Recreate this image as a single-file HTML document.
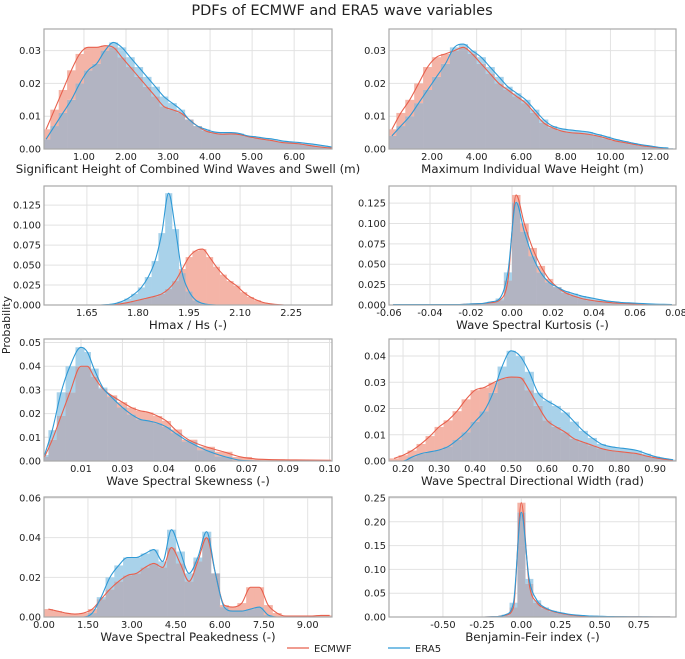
<!DOCTYPE html>
<html><head><meta charset="utf-8">
<style>
html,body{margin:0;padding:0;background:#fff;}
svg{display:block;font-family:"DejaVu Sans","Liberation Sans",sans-serif;}
</style></head>
<body>
<svg id="fig" width="685" height="659" viewBox="0 0 685 659" xmlns="http://www.w3.org/2000/svg">
<text x="342" y="15" text-anchor="middle" font-size="14.5" fill="#222">PDFs of ECMWF and ERA5 wave variables</text>
<text transform="translate(10,325) rotate(-90)" text-anchor="middle" font-size="11" fill="#222">Probability</text>
<g id="panels"></g>
<g>
<line x1="287" y1="648" x2="309" y2="648" stroke="#e8604d" stroke-width="1.3"/>
<text x="314" y="652" font-size="10" fill="#222">ECMWF</text>
<line x1="388" y1="648" x2="410" y2="648" stroke="#2f9ad6" stroke-width="1.3"/>
<text x="415" y="652" font-size="10" fill="#222">ERA5</text>
</g>
</svg>
<script>
// ---- Panel 1: Significant height ----
const p1X=[0.1,0.3,0.5,0.7,0.9,1.1,1.3,1.5,1.7,1.9,2.1,2.3,2.5,2.7,2.9,3.1,3.3,3.5,3.7,3.9,4.1,4.3,4.5,4.7,4.9,5.1,5.3,5.5,5.7,5.9,6.1,6.3,6.5,6.7,6.9];
const p1Red=[0.006,0.012,0.018,0.024,0.029,0.031,0.031,0.0315,0.031,0.028,0.025,0.022,0.019,0.016,0.013,0.012,0.011,0.009,0.007,0.0055,0.0048,0.0045,0.0046,0.0044,0.0038,0.0033,0.0029,0.0025,0.002,0.0018,0.0016,0.0012,0.0008,0.0005,0.0003];
const p1Blue=[0.003,0.007,0.011,0.015,0.02,0.024,0.026,0.03,0.0325,0.031,0.028,0.025,0.022,0.019,0.016,0.014,0.012,0.009,0.007,0.006,0.0052,0.005,0.005,0.0047,0.004,0.0037,0.0033,0.003,0.0025,0.0022,0.002,0.0017,0.0014,0.001,0.0006];
const p1XTicks=[1,2,3,4,5,6];
const p1XLabels=["1.00","2.00","3.00","4.00","5.00","6.00"];
const p1YTicks=[0,0.01,0.02,0.03];
const p1YLabels=["0.00","0.01","0.02","0.03"];
// ---- Panel 2: Max individual wave height ----
const p2X=[0.2,0.6,1.0,1.4,1.8,2.2,2.6,3.0,3.4,3.8,4.2,4.6,5.0,5.4,5.8,6.2,6.6,7.0,7.4,7.8,8.2,8.6,9.0,9.4,9.8,10.2,10.6,11.0,11.4,11.8,12.2,12.6];
const p2Red=[0.006,0.011,0.015,0.02,0.025,0.028,0.029,0.030,0.031,0.029,0.026,0.023,0.02,0.018,0.016,0.014,0.011,0.008,0.0065,0.0055,0.005,0.0048,0.0045,0.004,0.0033,0.0025,0.002,0.0015,0.001,0.0007,0.0004,0.0002];
const p2Blue=[0.004,0.007,0.01,0.014,0.018,0.022,0.026,0.031,0.032,0.030,0.028,0.025,0.022,0.019,0.017,0.015,0.012,0.009,0.007,0.0062,0.0058,0.0055,0.0052,0.0045,0.0038,0.003,0.0024,0.0018,0.0013,0.0009,0.0005,0.0003];
const p2XTicks=[2,4,6,8,10,12];
const p2XLabels=["2.00","4.00","6.00","8.00","10.00","12.00"];
const p2YTicks=[0,0.01,0.02,0.03];
const p2YLabels=["0.00","0.01","0.02","0.03"];
// ---- Panel 3: Hmax / Hs ----
const p3X=[1.53,1.55,1.57,1.59,1.61,1.63,1.65,1.67,1.69,1.71,1.73,1.75,1.77,1.79,1.81,1.83,1.85,1.87,1.89,1.91,1.93,1.95,1.97,1.99,2.01,2.03,2.05,2.07,2.09,2.11,2.13,2.15,2.17,2.19,2.21,2.23,2.25,2.27,2.29,2.31,2.33,2.35,2.37];
const p3Red=[0,0,0,0,0,0,0,0,0,0,0.0005,0.0015,0.003,0.005,0.007,0.009,0.011,0.014,0.02,0.03,0.045,0.06,0.068,0.07,0.06,0.048,0.038,0.03,0.024,0.016,0.01,0.006,0.003,0.0015,0.0005,0,0,0,0,0,0,0,0];
const p3Blue=[0,0,0,0,0,0,0,0,0,0.0005,0.0015,0.004,0.008,0.014,0.022,0.035,0.055,0.09,0.14,0.095,0.04,0.017,0.006,0.002,0.0005,0,0,0,0,0,0,0,0,0,0,0,0,0,0,0,0,0,0];
const p3XTicks=[1.65,1.80,1.95,2.10,2.25];
const p3XLabels=["1.65","1.80","1.95","2.10","2.25"];
const p3YTicks=[0,0.025,0.05,0.075,0.1,0.125];
const p3YLabels=["0.000","0.025","0.050","0.075","0.100","0.125"];
// ---- Panel 4: Kurtosis ----
const p4X=[-0.058,-0.054,-0.05,-0.046,-0.042,-0.038,-0.034,-0.03,-0.026,-0.022,-0.018,-0.014,-0.01,-0.006,-0.002,0.002,0.006,0.01,0.014,0.018,0.022,0.026,0.03,0.034,0.038,0.042,0.046,0.05,0.054,0.058,0.062,0.066,0.07,0.074,0.078];
const p4Red=[0.0005,0.0005,0.0005,0.0005,0.0005,0.0005,0.0005,0.0005,0.0005,0.001,0.0015,0.002,0.003,0.006,0.03,0.135,0.1,0.07,0.048,0.032,0.022,0.015,0.011,0.008,0.006,0.0045,0.0035,0.0025,0.002,0.0015,0.001,0.0008,0.0006,0.0004,0.0003];
const p4Blue=[0.0005,0.0005,0.0005,0.0005,0.0005,0.0005,0.0005,0.0005,0.0005,0.001,0.0015,0.002,0.004,0.008,0.04,0.126,0.09,0.06,0.04,0.028,0.022,0.017,0.014,0.011,0.009,0.007,0.005,0.004,0.003,0.0025,0.002,0.0015,0.001,0.0008,0.0005];
const p4XTicks=[-0.06,-0.04,-0.02,0,0.02,0.04,0.06,0.08];
const p4XLabels=["-0.06","-0.04","-0.02","0.00","0.02","0.04","0.06","0.08"];
const p4YTicks=[0,0.025,0.05,0.075,0.1,0.125];
const p4YLabels=["0.000","0.025","0.050","0.075","0.100","0.125"];
// ---- Panel 5: Skewness ----
const p5X=[-0.0017,0.0011,0.0043,0.0075,0.0115,0.0138,0.0162,0.0194,0.0225,0.0265,0.0297,0.0329,0.036,0.0392,0.0424,0.0456,0.0504,0.0567,0.0631,0.0694,0.0773,0.0932,0.102];
const p5Red=[0.0017,0.009,0.019,0.029,0.040,0.040,0.0356,0.0305,0.0277,0.0248,0.0226,0.0212,0.0205,0.019,0.0169,0.0133,0.009,0.006,0.0039,0.0017,0.0007,0.0004,0.0003];
const p5Blue=[0.0025,0.013,0.029,0.040,0.048,0.046,0.039,0.031,0.027,0.0226,0.0197,0.0176,0.0169,0.016,0.0144,0.0118,0.0082,0.0046,0.002,0.0003,0,0,0];
const p5XTicks=[0.0115,0.0265,0.0415,0.0565,0.0715,0.0865,0.1015];
const p5XLabels=["0.01","0.03","0.04","0.06","0.07","0.09","0.10"];
const p5YTicks=[0,0.01,0.02,0.03,0.04,0.05];
const p5YLabels=["0.00","0.01","0.02","0.03","0.04","0.05"];
// ---- Panel 6: Directional width ----
const p6X=[0.175,0.2,0.225,0.25,0.275,0.3,0.325,0.35,0.375,0.4,0.425,0.45,0.475,0.5,0.525,0.55,0.575,0.6,0.625,0.65,0.675,0.7,0.725,0.75,0.775,0.8,0.825,0.85,0.875,0.9,0.925,0.95];
const p6Red=[0.001,0.0022,0.004,0.0065,0.0095,0.013,0.0155,0.019,0.0235,0.027,0.028,0.0298,0.0313,0.032,0.0318,0.027,0.021,0.0155,0.013,0.011,0.0085,0.0072,0.006,0.0048,0.004,0.0036,0.0032,0.0028,0.0019,0.0012,0.0007,0.0003];
const p6Blue=[0,0,0.0015,0.0028,0.0035,0.0042,0.0055,0.008,0.011,0.015,0.019,0.026,0.036,0.042,0.040,0.034,0.026,0.023,0.021,0.0185,0.015,0.0115,0.0088,0.0065,0.0055,0.005,0.0046,0.004,0.0028,0.0017,0.001,0.0005];
const p6XTicks=[0.2,0.3,0.4,0.5,0.6,0.7,0.8,0.9];
const p6XLabels=["0.20","0.30","0.40","0.50","0.60","0.70","0.80","0.90"];
const p6YTicks=[0,0.01,0.02,0.03,0.04];
const p6YLabels=["0.00","0.01","0.02","0.03","0.04"];
// ---- Panel 7: Peakedness ----
const p7X=[0.15,0.45,0.75,1.05,1.35,1.65,1.95,2.25,2.55,2.85,3.15,3.45,3.75,4.05,4.35,4.65,4.95,5.25,5.55,5.85,6.15,6.45,6.75,7.05,7.35,7.65,7.95,8.25,8.55,8.85,9.15,9.45,9.75];
const p7Red=[0.004,0.003,0.002,0.0015,0.002,0.004,0.009,0.014,0.018,0.021,0.022,0.025,0.027,0.025,0.035,0.027,0.018,0.028,0.040,0.022,0.006,0.005,0.007,0.015,0.015,0.006,0.002,0.0005,0.0005,0.0005,0.0005,0.0008,0.0008];
const p7Blue=[0,0,0,0,0,0.002,0.01,0.02,0.026,0.03,0.03,0.032,0.034,0.028,0.044,0.033,0.022,0.03,0.043,0.022,0.005,0.003,0.003,0.004,0.005,0.001,0,0,0,0,0,0,0];
const p7XTicks=[0,1.5,3,4.5,6,7.5,9];
const p7XLabels=["0.00","1.50","3.00","4.50","6.00","7.50","9.00"];
const p7YTicks=[0,0.02,0.04,0.06];
const p7YLabels=["0.00","0.02","0.04","0.06"];
// ---- Panel 8: Benjamin-Feir index ----
const p8X=[-0.8,-0.75,-0.7,-0.65,-0.6,-0.55,-0.5,-0.45,-0.4,-0.35,-0.3,-0.25,-0.2,-0.15,-0.1,-0.05,0,0.05,0.1,0.15,0.2,0.25,0.3,0.35,0.4,0.45,0.5,0.55,0.6,0.65,0.7,0.75,0.8,0.85,0.9,0.95];
const p8Red=[0,0,0,0,0,0,0,0,0,0,0,0,0.0005,0.001,0.004,0.02,0.24,0.07,0.03,0.018,0.012,0.008,0.005,0.003,0.002,0.0015,0.001,0.0008,0.0006,0.0005,0.0004,0.0003,0.0002,0.0002,0.0001,0.0001];
const p8Blue=[0,0,0,0,0,0,0,0,0,0,0,0,0.0005,0.001,0.005,0.03,0.22,0.08,0.035,0.02,0.013,0.009,0.006,0.004,0.003,0.002,0.0015,0.001,0.0008,0.0006,0.0005,0.0004,0.0003,0.0002,0.0001,0.0001];
const p8XTicks=[-0.5,-0.25,0,0.25,0.5,0.75];
const p8XLabels=["-0.50","-0.25","0.00","0.25","0.50","0.75"];
const p8YTicks=[0,0.05,0.1,0.15,0.2,0.25];
const p8YLabels=["0.00","0.05","0.10","0.15","0.20","0.25"];

const NS="http://www.w3.org/2000/svg";
const RED="#e8604d",BLUE="#2f9ad6",RBAR="#f4b4a7",BBAR="#a9d2ea",GBAR="#b2b4c2";
function mk(tag,attrs,parent){const e=document.createElementNS(NS,tag);for(const k in attrs)e.setAttribute(k,attrs[k]);if(parent)parent.appendChild(e);return e;}
function monoPath(px,py){
  const n=px.length;if(n<2)return "";
  const d=[],m=new Array(n);
  for(let i=0;i<n-1;i++)d.push((py[i+1]-py[i])/(px[i+1]-px[i]));
  m[0]=d[0];m[n-1]=d[n-2];
  for(let i=1;i<n-1;i++){m[i]=(d[i-1]*d[i]<=0)?0:(d[i-1]+d[i])/2;}
  for(let i=0;i<n-1;i++){if(d[i]===0){m[i]=0;m[i+1]=0;continue;}const a=m[i]/d[i],b=m[i+1]/d[i],s=a*a+b*b;if(s>9){const t=3/Math.sqrt(s);m[i]=t*a*d[i];m[i+1]=t*b*d[i];}}
  let p="M"+px[0].toFixed(2)+","+py[0].toFixed(2);
  for(let i=0;i<n-1;i++){const h=(px[i+1]-px[i])/3;p+=" C"+(px[i]+h).toFixed(2)+","+(py[i]+m[i]*h).toFixed(2)+" "+(px[i+1]-h).toFixed(2)+","+(py[i+1]-m[i+1]*h).toFixed(2)+" "+px[i+1].toFixed(2)+","+py[i+1].toFixed(2);}
  return p;
}
const root=document.getElementById("panels");
function panel(cfg,idx){
  const {name,x0,x1,y0,y1,xmin,xmax,ymax,xs,red,blue,xt,xl,yt,yl,label}=cfg;
  const sx=v=>x0+(v-xmin)/(xmax-xmin)*(x1-x0);
  const sy=v=>y1-v/ymax*(y1-y0);
  const g=mk("g",{},root);
  
  
  const cp=mk("clipPath",{id:"cp"+idx},g);
  mk("rect",{x:x0,y:y0,width:x1-x0,height:y1-y0},cp);
  const grid=mk("g",{stroke:"#e2e2e2","stroke-width":"1"},g);
  
  
  xt.forEach(v=>{const X=sx(v);mk("line",{x1:X,x2:X,y1:y0,y2:y1},grid);});
  yt.forEach(v=>{const Y=sy(v);mk("line",{x1:x0,x2:x1,y1:Y,y2:Y},grid);});
  const bars=mk("g",{"clip-path":"url(#cp"+idx+")"},g);
  
  
  for(let i=0;i<xs.length;i++){
    const l=i>0?(xs[i-1]+xs[i])/2:xs[i]-(xs[1]-xs[0])/2;
    const r=i<xs.length-1?(xs[i]+xs[i+1])/2:xs[i]+(xs[i]-xs[i-1])/2;
    const L=sx(l),R=sx(r)+0.3,lo=Math.min(red[i],blue[i]),hi=Math.max(red[i],blue[i]);
    const gb=mk("rect",{x:L,width:R-L,y:sy(lo),height:Math.max(0,sy(0)-sy(lo)),fill:GBAR},bars);
    
    
    if(hi>lo){const eb=mk("rect",{x:L,width:R-L,y:sy(hi),height:sy(lo)-sy(hi),fill:red[i]>blue[i]?RBAR:BBAR},bars);
      
      }
  }
  const px=xs.map(sx);
  const rl=mk("path",{d:monoPath(px,red.map(sy)),fill:"none",stroke:RED,"stroke-width":"1.1","clip-path":"url(#cp"+idx+")"},g);
  
  
  const bl=mk("path",{d:monoPath(px,blue.map(sy)),fill:"none",stroke:BLUE,"stroke-width":"1.1","clip-path":"url(#cp"+idx+")"},g);
  
  
  const fr=mk("rect",{x:x0,y:y0,width:x1-x0,height:y1-y0,fill:"none",stroke:"#a8a8a8","stroke-width":"1.2"},g);
  
  
  xt.forEach((v,i)=>{const t=mk("text",{x:sx(v),y:y1+11,"text-anchor":"middle","font-size":"9.8",fill:"#222"},g);t.textContent=xl[i];
    
    });
  yt.forEach((v,i)=>{const t=mk("text",{x:x0-3,y:sy(v)+3.5,"text-anchor":"end","font-size":"9.8",fill:"#222"},g);t.textContent=yl[i];
    
    });
  const lab=mk("text",{x:(x0+x1)/2,y:y1+24,"text-anchor":"middle","font-size":"11.8",fill:"#222"},g);lab.textContent=label;
  
  
}
const L0=44,L1=332,R0=389,R1=676;
const rows=[[29,149],[186,305],[339,461],[497,617]];
panel({name:"sig-height",x0:L0,x1:L1,y0:rows[0][0],y1:rows[0][1],xmin:0.05,xmax:6.9,ymax:0.0366,xs:p1X,red:p1Red,blue:p1Blue,xt:p1XTicks,xl:p1XLabels,yt:p1YTicks,yl:p1YLabels,label:"Significant Height of Combined Wind Waves and Swell (m)"},1);
panel({name:"max-wave-height",x0:R0,x1:R1,y0:rows[0][0],y1:rows[0][1],xmin:0.07,xmax:12.94,ymax:0.0366,xs:p2X,red:p2Red,blue:p2Blue,xt:p2XTicks,xl:p2XLabels,yt:p2YTicks,yl:p2YLabels,label:"Maximum Individual Wave Height (m)"},2);
panel({name:"hmax-hs",x0:L0,x1:L1,y0:rows[1][0],y1:rows[1][1],xmin:1.524,xmax:2.37,ymax:0.149,xs:p3X,red:p3Red,blue:p3Blue,xt:p3XTicks,xl:p3XLabels,yt:p3YTicks,yl:p3YLabels,label:"Hmax / Hs (-)"},3);
panel({name:"kurtosis",x0:R0,x1:R1,y0:rows[1][0],y1:rows[1][1],xmin:-0.06,xmax:0.08,ymax:0.146,xs:p4X,red:p4Red,blue:p4Blue,xt:p4XTicks,xl:p4XLabels,yt:p4YTicks,yl:p4YLabels,label:"Wave Spectral Kurtosis (-)"},4);
panel({name:"skewness",x0:L0,x1:L1,y0:rows[2][0],y1:rows[2][1],xmin:-0.0019,xmax:0.1024,ymax:0.0515,xs:p5X,red:p5Red,blue:p5Blue,xt:p5XTicks,xl:p5XLabels,yt:p5YTicks,yl:p5YLabels,label:"Wave Spectral Skewness (-)"},5);
panel({name:"directional-width",x0:R0,x1:R1,y0:rows[2][0],y1:rows[2][1],xmin:0.161,xmax:0.958,ymax:0.0465,xs:p6X,red:p6Red,blue:p6Blue,xt:p6XTicks,xl:p6XLabels,yt:p6YTicks,yl:p6YLabels,label:"Wave Spectral Directional Width (rad)"},6);
panel({name:"peakedness",x0:L0,x1:L1,y0:rows[3][0],y1:rows[3][1],xmin:0,xmax:9.83,ymax:0.0605,xs:p7X,red:p7Red,blue:p7Blue,xt:p7XTicks,xl:p7XLabels,yt:p7YTicks,yl:p7YLabels,label:"Wave Spectral Peakedness (-)"},7);
panel({name:"benjamin-feir",x0:R0,x1:R1,y0:rows[3][0],y1:rows[3][1],xmin:-0.844,xmax:0.987,ymax:0.252,xs:p8X,red:p8Red,blue:p8Blue,xt:p8XTicks,xl:p8XLabels,yt:p8YTicks,yl:p8YLabels,label:"Benjamin-Feir index (-)"},8);
</script>
</body></html>
